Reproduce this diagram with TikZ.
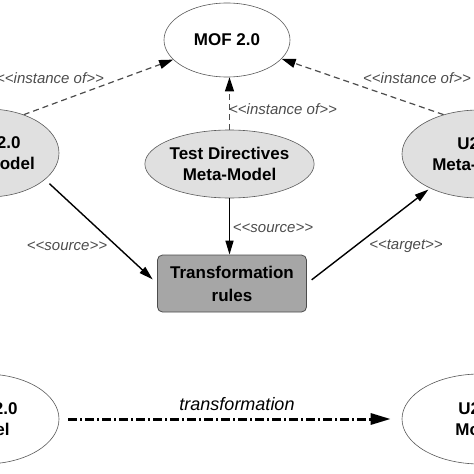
\documentclass[tikz,border=0pt]{standalone}
\usepackage{fontspec}
\setmainfont{Liberation Sans}
\usetikzlibrary{shapes.geometric,arrows.meta}
\newcommand{\stlt}{<\kern0pt<}
\newcommand{\stgt}{>\kern0pt>}
\begin{document}
\begin{tikzpicture}[x=1pt, y=-1pt,
        model/.style={ellipse, draw=black!65, line width=0.6pt, fill=white, inner sep=0pt, align=center, font=\fontsize{17}{21}\selectfont\bfseries},
        metamodel/.style={model, fill=black!12},
        stereo/.style={font=\fontsize{15}{18}\selectfont\itshape, text=black!70},
        instof/.style={draw=black!70, line width=1.2pt, dash pattern=on 6pt off 4pt, -{Triangle[length=14pt, width=9pt, color=black]}},
        uses/.style={line width=1.4pt, -{Triangle[length=14pt, width=8pt]}},
        trafo/.style={line width=3pt, dash pattern=on 9pt off 3pt on 2pt off 3pt, -{Triangle[length=20pt, width=11pt]}}]
        \clip (0, 0) rectangle (474, 474);

        % meta level
        \node[model, minimum width=126pt, minimum height=74pt] (mof) at (227, 40) {MOF 2.0};
        \node[metamodel, minimum width=142pt, minimum height=88pt] (umlmeta) at (-12, 153) {UML 2.0\\Meta-Model};
        \node[metamodel, minimum width=136pt, minimum height=68pt] (tdm) at (229.5, 164) {Test Directives\\Meta-Model};
        \node[metamodel, minimum width=154pt, minimum height=88pt] (u2tpmeta) at (479, 154) {U2TP\\Meta-Model};
        \node[draw=black!70, line width=0.8pt, fill=black!35, rounded corners=5pt, minimum width=149pt, minimum height=57pt,
              align=center, font=\fontsize{17}{23}\selectfont\bfseries] (rules) at (232, 283.5) {Transformation\\rules};

        % model level
        \node[model, minimum width=148pt, minimum height=90pt] (umlmodel) at (-15, 419) {UML 2.0\\Model};
        \node[model, minimum width=156pt, minimum height=90pt] (u2tpmodel) at (480, 419) {U2TP\\Model};

        \draw[instof] (umlmeta.47) -- (mof.200);
        \draw[instof] (u2tpmeta.132) -- (mof.341);
        \draw[instof] (tdm.north) -- (tdm.north |- mof.south);
        \draw[uses, shorten <=6pt, shorten >=6pt] (umlmeta.335) -- (rules.west);
        \draw[uses] (tdm.south) -- (tdm.south |- rules.north);
        \draw[uses, shorten <=6pt, shorten >=2pt] (rules.east) -- (u2tpmeta.215);
        \draw[trafo, shorten <=9pt, shorten >=11pt] (umlmodel.east) -- (u2tpmodel.west);

        % stereotypes
        \node[stereo] (inst1) at (50, 78) {\stlt instance of\stgt};
        \node[stereo] (inst2) at (283, 109) {\stlt instance of\stgt};
        \node[stereo] (inst3) at (417, 78) {\stlt instance of\stgt};
        \node[stereo] (src1) at (67, 246) {\stlt source\stgt};
        \node[stereo] (src2) at (273, 228) {\stlt source\stgt};
        \node[stereo] (tgt) at (406, 246) {\stlt target\stgt};
        \node[font=\fontsize{18}{21}\selectfont\itshape] (trans) at (237, 404) {transformation};
    \end{tikzpicture}
\end{document}
